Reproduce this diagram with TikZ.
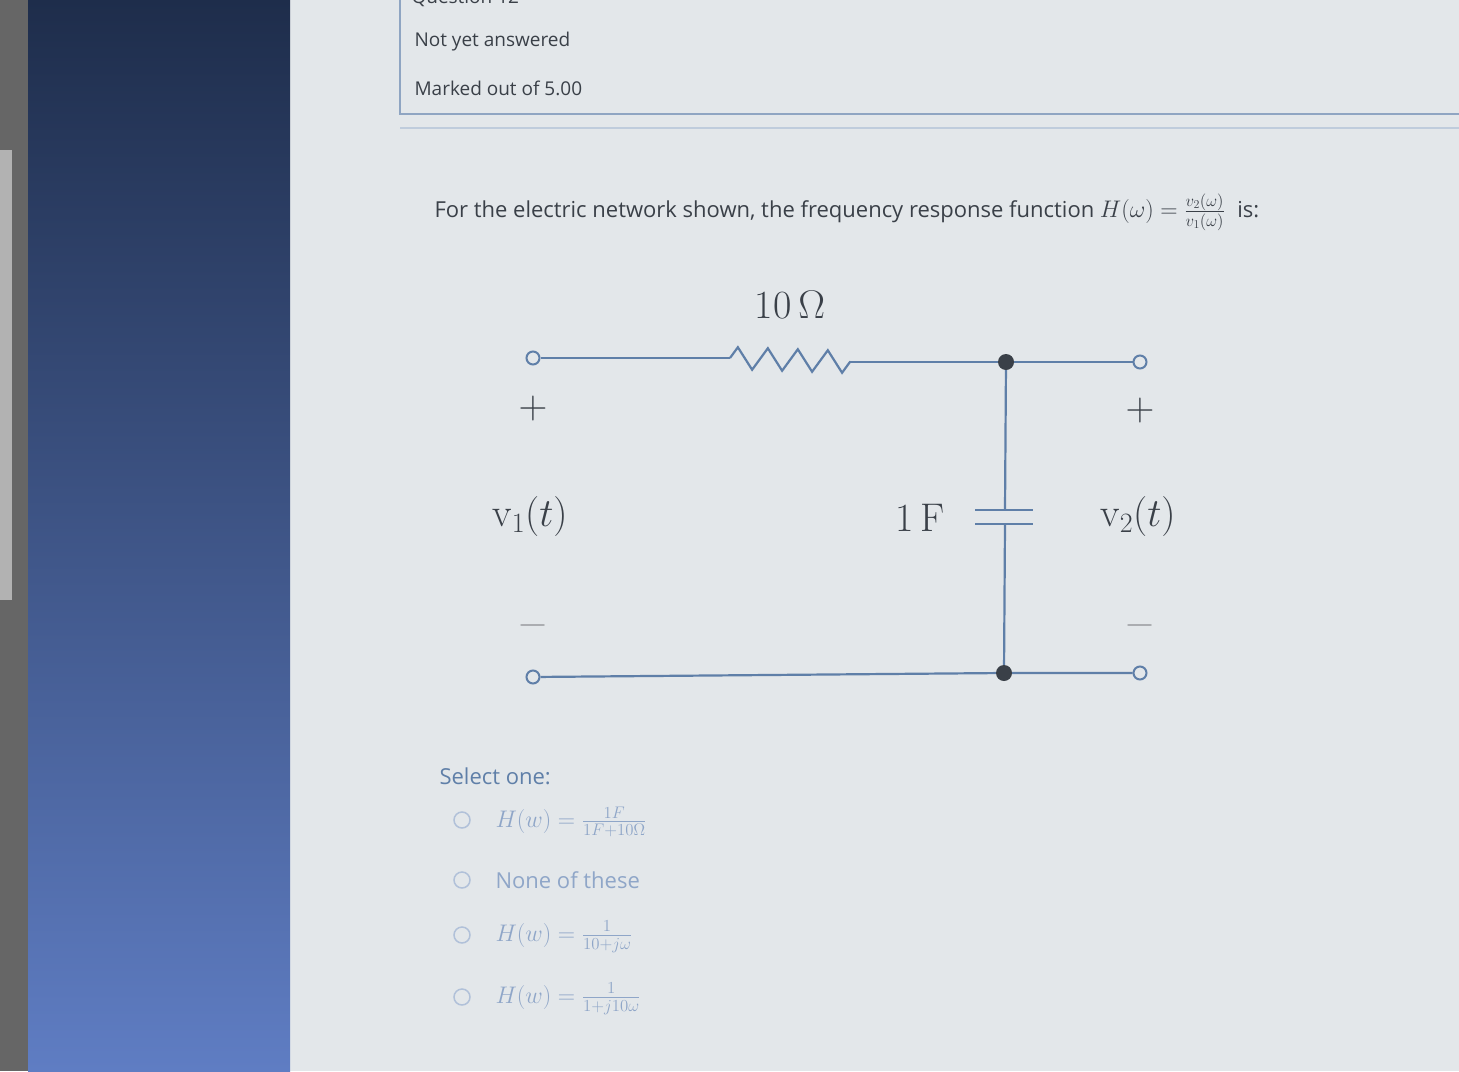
\RequirePackage{fix-cm}
\documentclass[tikz,border=0pt]{standalone}
\usepackage{fontspec}
\usepackage{amsmath}
\setsansfont{Open Sans}
\usetikzlibrary{decorations.pathmorphing}
\definecolor{bg}{HTML}{E3E7EA}
\definecolor{wire}{HTML}{5F7FA8}
\definecolor{ink}{HTML}{3A4048}
\definecolor{opt}{HTML}{8FA6C8}
\tikzset{
  wr/.style={draw=wire,line width=2.2pt},
  term/.style={circle,draw=wire,line width=2pt,fill=bg,minimum size=13pt,inner sep=0pt},
  junc/.style={circle,fill=ink,minimum size=16pt,inner sep=0pt},
  lbl/.style={text=ink,font=\fontsize{40}{44}\selectfont},
  hd/.style={anchor=west,text=ink,font=\sffamily\fontsize{19}{22}\selectfont},
  op/.style={anchor=west,text=opt,font=\fontsize{24}{26}\selectfont},
  radio/.style={circle,draw=opt!70,line width=1.5pt,minimum size=16pt,inner sep=0pt}
}
\begin{document}
\begin{tikzpicture}[x=1pt,y=-1pt]
\useasboundingbox (0,0) rectangle (1459,1071);
\fill[bg] (0,0) rectangle (1459,1071);
\shade[top color={rgb,255:red,30;green,45;blue,75}, bottom color={rgb,255:red,95;green,125;blue,195}] (28,0) rectangle (290,1071);
\fill[black!60] (0,0) rectangle (28,1071);
\fill[gray!60] (0,150) rectangle (12,600);
\draw[wire!70,line width=2pt] (400,0) -- (400,114) -- (1459,114);
\draw[wire!40,line width=1.5pt] (400,128) -- (1459,128);
\node[hd] (q) at (408,-2) {Question 12};
\node[hd] (n) at (411,42) {Not yet answered};
\node[hd] (m) at (411,88) {Marked out of 5.00};
\node[hd,font=\sffamily\fontsize{22}{24}\selectfont] (qt) at (431,212) {For the electric network shown, the frequency response function \fontsize{24}{28}\selectfont$H(\omega)=\frac{v_2(\omega)}{v_1(\omega)}$ \ \fontsize{22}{24}\selectfont is:};
\node[term] (t1) at (533,358) {};
\node[term] (t2) at (533,677) {};
\node[term] (t3) at (1140,362) {};
\node[term] (t4) at (1140,673) {};
\node[junc] (j1) at (1006,362) {};
\node[junc] (j2) at (1004,673) {};
\coordinate (r1) at (730,358);
\coordinate (r2) at (850,362);
\coordinate (c1) at (1005,510);
\coordinate (c2) at (1005,524);
\draw[wr] (t1) -- (r1);
\draw[wr,decorate,decoration={zigzag,segment length=30pt,amplitude=11pt}] (r1) -- (r2);
\draw[wr] (r2) -- (j1) -- (t3);
\draw[wr] (t2) -- (j2) -- (t4);
\draw[wr] (j1) -- (c1);
\draw[wr] (c2) -- (j2);
\draw[wr] (975,510) -- (1033,510);
\draw[wr] (975,524) -- (1033,524);
\node[lbl] (R) at (790,305) {10\,$\Omega$};
\node[lbl] (C) at (920,518) {1\,F};
\node[lbl] (p1) at (533,408) {$+$};
\node[lbl] (p2) at (1140,410) {$+$};
\node[lbl,text=ink!50] (m1) at (533,625) {$-$};
\node[lbl,text=ink!50] (m2) at (1140,625) {$-$};
\node[lbl] (v1) at (530,516) {$\mathrm{v}_1(t)$};
\node[lbl] (v2) at (1138,516) {$\mathrm{v}_2(t)$};
\node[hd,text=wire,font=\sffamily\fontsize{22}{24}\selectfont] (s) at (436,776) {Select one:};
\node[radio] (o1) at (462,820) {};
\node[radio] (o2) at (462,880) {};
\node[radio] (o3) at (462,935) {};
\node[radio] (o4) at (462,997) {};
\node[op] (a1) at (492,822) {$H(w)=\tfrac{1F}{1F+10\Omega}$};
\node[op,font=\sffamily\fontsize{22}{24}\selectfont] (a2) at (492,880) {None of these};
\node[op] (a3) at (492,937) {$H(w)=\tfrac{1}{10+j\omega}$};
\node[op] (a4) at (492,999) {$H(w)=\tfrac{1}{1+j10\omega}$};
\end{tikzpicture}
\end{document}
